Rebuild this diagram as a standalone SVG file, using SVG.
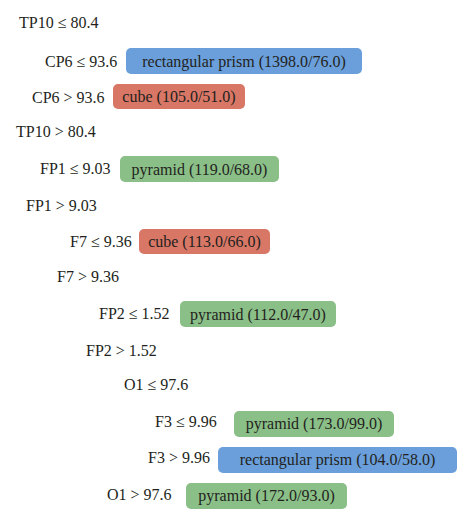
<svg xmlns="http://www.w3.org/2000/svg" width="474" height="526" viewBox="0 0 474 526">
<style>
.t{font-family:'Liberation Serif','DejaVu Serif','Times New Roman',serif;font-size:16px;fill:#231f20}
.lf{text-anchor:middle}
.blue{fill:#6a9fdb}
.red{fill:#d97766}
.green{fill:#8bbf88}
</style>
<rect width="474" height="526" fill="#fff"/>
<g id="connectors"></g>
<g class="t" font-family="Liberation Serif, DejaVu Serif, serif" font-size="16">
<g id="n1"><text x="19" y="28">TP10 ≤ 80.4</text></g>
<g id="n2"><text x="45" y="67">CP6 ≤ 93.6</text><rect class="blue" x="126" y="48" width="236" height="26" rx="5"/><text class="lf" x="244" y="66.5">rectangular prism (1398.0/76.0)</text></g>
<g id="n3"><text x="32" y="103">CP6 &gt; 93.6</text><rect class="red" x="113" y="84" width="132" height="25" rx="5"/><text class="lf" x="179" y="102">cube (105.0/51.0)</text></g>
<g id="n4"><text x="16" y="137">TP10 &gt; 80.4</text></g>
<g id="n5"><text x="40" y="174">FP1 ≤ 9.03</text><rect class="green" x="120" y="156" width="159" height="26" rx="5"/><text class="lf" x="199.5" y="174.5">pyramid (119.0/68.0)</text></g>
<g id="n6"><text x="26" y="211">FP1 &gt; 9.03</text></g>
<g id="n7"><text x="70" y="247">F7 ≤ 9.36</text><rect class="red" x="139" y="229" width="131" height="25" rx="5"/><text class="lf" x="204.5" y="247">cube (113.0/66.0)</text></g>
<g id="n8"><text x="57" y="282">F7 &gt; 9.36</text></g>
<g id="n9"><text x="99" y="319">FP2 ≤ 1.52</text><rect class="green" x="180" y="301" width="156" height="26" rx="5"/><text class="lf" x="258" y="319.5">pyramid (112.0/47.0)</text></g>
<g id="n10"><text x="86" y="356">FP2 &gt; 1.52</text></g>
<g id="n11"><text x="124" y="390">O1 ≤ 97.6</text></g>
<g id="n12"><text x="155" y="427">F3 ≤ 9.96</text><rect class="green" x="234" y="411" width="160" height="26" rx="5"/><text class="lf" x="314" y="429">pyramid (173.0/99.0)</text></g>
<g id="n13"><text x="148" y="463">F3 &gt; 9.96</text><rect class="blue" x="218" y="447" width="239" height="26" rx="5"/><text class="lf" x="337.5" y="465">rectangular prism (104.0/58.0)</text></g>
<g id="n14"><text x="107" y="500">O1 &gt; 97.6</text><rect class="green" x="186" y="483" width="161" height="26" rx="5"/><text class="lf" x="266.5" y="501">pyramid (172.0/93.0)</text></g>
</g>
</svg>
